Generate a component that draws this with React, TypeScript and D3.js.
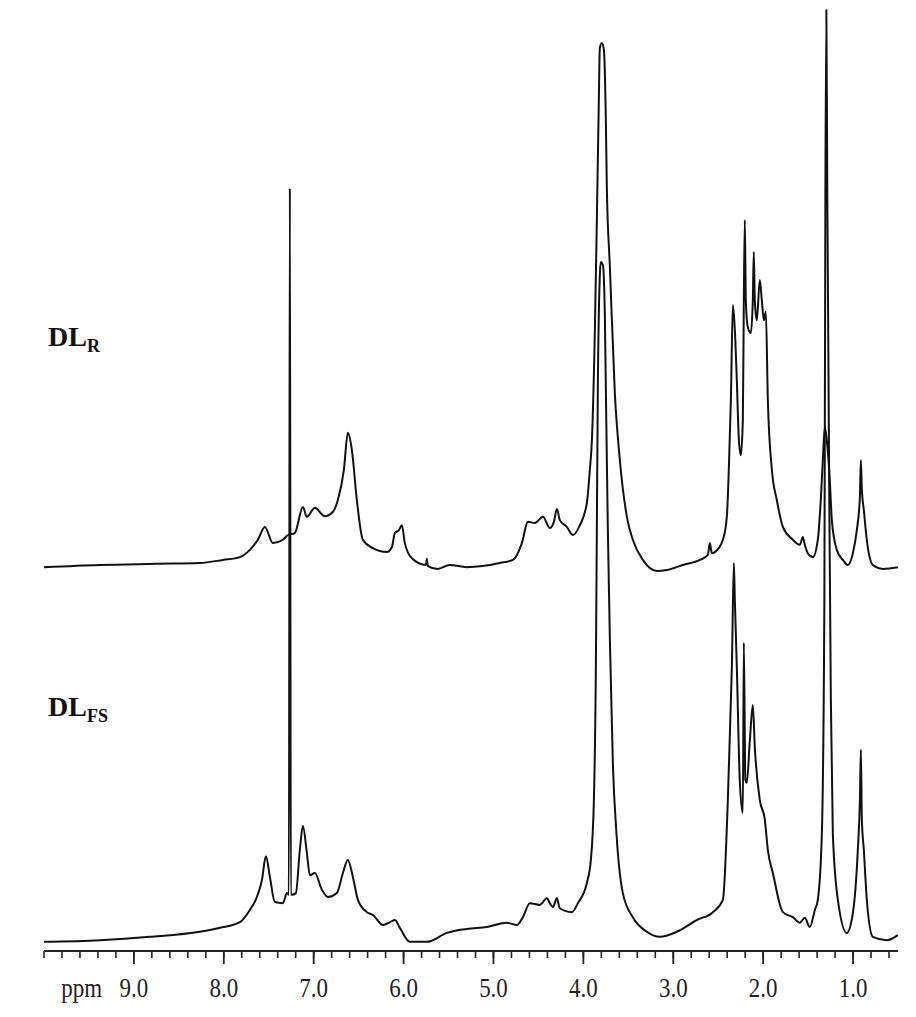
import { useMemo } from 'react'
import * as d3 from 'd3'

const WIDTH = 916
const HEIGHT = 1017

// chemical shift axis
const majorTicks = [9, 8, 7, 6, 5, 4, 3, 2, 1]
const tickLabels = ['9.0', '8.0', '7.0', '6.0', '5.0', '4.0', '3.0', '2.0', '1.0']
const unitLabel = 'ppm'

// [ppm, intensity]
const dlrSpectrum: [number, number][] = [
  [10.0, 0.5], [9.38, 0.9], [8.755, 1.1], [8.266, 1.25], [8.01, 1.8], [7.821, 2.3],
  [7.71, 3.6], [7.621, 5.4], [7.543, 7.7], [7.454, 4.8], [7.343, 5.4], [7.287, 6.25],
  [7.21, 6.6], [7.12, 11.25], [7.076, 9.5], [6.987, 11.1], [6.876, 9.6], [6.786, 10.4],
  [6.731, 12.5], [6.664, 17.9], [6.62, 24.5], [6.575, 21.4], [6.52, 12.5], [6.453, 5.4],
  [6.341, 3.9], [6.186, 3.2], [6.13, 4.1], [6.097, 6.6], [6.052, 7.1], [6.019, 8.0],
  [5.986, 4.8], [5.908, 2.1], [5.752, 0.9], [5.741, 2.0], [5.73, 0.7], [5.62, 0.2],
  [5.487, 0.9], [5.298, 0.5], [5.12, 0.7], [4.929, 1.25], [4.784, 1.8], [4.684, 4.8],
  [4.617, 8.6], [4.539, 8.4], [4.45, 9.5], [4.373, 7.5], [4.328, 8.6], [4.295, 10.9],
  [4.262, 8.9], [4.184, 7.7], [4.117, 6.25], [4.039, 8.0], [3.961, 12.0], [3.928, 17.9],
  [3.905, 23.2], [3.872, 42.9], [3.85, 62.5], [3.828, 83.9], [3.817, 93.2], [3.794, 94.1],
  [3.772, 92.9], [3.75, 80.4], [3.739, 68.4], [3.705, 54.1], [3.65, 31.6], [3.594, 19.6],
  [3.516, 9.5], [3.45, 5.4], [3.338, 1.8], [3.183, -0.2], [3.071, 0], [2.893, 0.9],
  [2.704, 1.8], [2.615, 2.7], [2.593, 4.8], [2.571, 3.0], [2.537, 3.2], [2.448, 5.4],
  [2.404, 9.5], [2.382, 17.9], [2.359, 30.4], [2.337, 47.3], [2.315, 42.9], [2.293, 33.9],
  [2.27, 23.2], [2.248, 20.5], [2.226, 26.8], [2.215, 48.2], [2.204, 62.5], [2.193, 48.2],
  [2.171, 43.4], [2.137, 42.3], [2.115, 48.2], [2.104, 56.8], [2.093, 48.2], [2.071, 44.6],
  [2.037, 51.8], [2.015, 48.2], [1.992, 44.6], [1.97, 46.1], [1.948, 30.4], [1.903, 17.9],
  [1.848, 12.5], [1.781, 7.7], [1.67, 5.4], [1.592, 4.5], [1.559, 5.9], [1.537, 4.5],
  [1.503, 3.0], [1.447, 2.3], [1.392, 5.4], [1.359, 12.5], [1.336, 19.6], [1.314, 25.5],
  [1.292, 23.2], [1.259, 16.1], [1.236, 8.9], [1.181, 3.6], [1.114, 1.8], [1.058, 0.9],
  [1.002, 3.0], [0.958, 7.1], [0.924, 13.0], [0.913, 19.6], [0.902, 14.3], [0.88, 10.7],
  [0.847, 5.4], [0.78, 0.9], [0.669, 0.2], [0.502, 0.5],
]

// [ppm, intensity]
const dlfsSpectrum: [number, number][] = [
  [10.0, 1.1], [9.378, 1.4], [8.822, 2.0], [8.266, 2.9], [8.043, 3.6], [7.821, 4.6],
  [7.71, 6.8], [7.632, 9.1], [7.576, 12.1], [7.532, 16.4], [7.487, 12.7], [7.432, 8.2],
  [7.343, 8.0], [7.298, 9.8], [7.276, 9.5], [7.265, 135.7], [7.254, 9.5], [7.242, 9.5],
  [7.198, 9.8], [7.154, 17.5], [7.12, 21.8], [7.076, 17.0], [7.042, 13.0], [6.987, 13.4],
  [6.909, 10.4], [6.842, 9.1], [6.742, 9.8], [6.675, 13.4], [6.62, 15.7], [6.564, 12.7],
  [6.508, 8.6], [6.408, 6.4], [6.341, 5.9], [6.23, 4.1], [6.13, 4.8], [6.097, 5.0],
  [6.041, 3.6], [5.93, 1.1], [5.741, 1.1], [5.518, 2.7], [5.296, 3.4], [5.073, 3.75],
  [4.851, 4.5], [4.74, 4.1], [4.673, 5.5], [4.595, 8.0], [4.484, 7.7], [4.406, 8.9],
  [4.373, 8.0], [4.339, 7.3], [4.295, 8.9], [4.262, 7.1], [4.128, 6.4], [4.061, 8.0],
  [3.961, 11.6], [3.917, 15.7], [3.883, 26.4], [3.861, 50.0], [3.85, 75.0], [3.839, 100.0],
  [3.817, 120.0], [3.806, 122.5], [3.783, 122.0], [3.761, 113.0], [3.75, 100.0], [3.728, 75.0],
  [3.705, 55.0], [3.672, 33.0], [3.63, 20.0], [3.561, 9.8], [3.45, 5.5], [3.294, 2.9],
  [3.149, 2.0], [2.96, 2.9], [2.737, 5.0], [2.559, 6.4], [2.448, 8.6], [2.393, 26.4],
  [2.359, 44.3], [2.348, 50.2], [2.326, 68.75], [2.315, 62.1], [2.293, 50.2], [2.259, 29.5],
  [2.226, 24.1], [2.215, 54.5], [2.198, 30.0], [2.182, 29.5], [2.148, 37.1], [2.115, 43.4],
  [2.093, 35.9], [2.037, 26.4], [1.981, 22.9], [1.948, 17.5], [1.892, 13.4], [1.781, 6.4],
  [1.67, 5.5], [1.592, 4.5], [1.537, 5.4], [1.481, 3.75], [1.425, 6.8], [1.392, 8.6],
  [1.347, 20.5], [1.319, 62.1], [1.308, 133.6], [1.297, 167.5], [1.286, 133.6], [1.264, 80.0],
  [1.247, 44.3], [1.225, 20.5], [1.169, 8.6], [1.07, 2.7], [1.002, 6.25], [0.947, 17.5],
  [0.924, 26.4], [0.913, 35.4], [0.902, 22.9], [0.88, 17.5], [0.847, 8.6], [0.78, 2.0],
  [0.624, 1.4], [0.502, 2.3],
]

const traceNames = ['DL', 'DL']
const traceSubs = ['R', 'FS']

const FONT = '"Liberation Serif", "Times New Roman", Times, serif'
const SQUEEZE = 0.82 // the scan's axis lettering is narrow and tall

export default function App() {
  const x = useMemo(() => d3.scaleLinear().domain([10, 0.5]).range([44, 898]), [])
  const yTop = useMemo(() => d3.scaleLinear().domain([0, 100]).range([570, 10]), [])
  const yBot = useMemo(() => d3.scaleLinear().domain([0, 100]).range([948, 388]), [])

  const paths = useMemo(() => {
    const mk = (y: d3.ScaleLinear<number, number>) =>
      d3
        .line<[number, number]>()
        .x((d) => x(d[0]))
        .y((d) => y(d[1]))
        .curve(d3.curveMonotoneX)
    return [mk(yTop)(dlrSpectrum) ?? '', mk(yBot)(dlfsSpectrum) ?? '']
  }, [x, yTop, yBot])

  const axisY = 951
  const labelY = 997
  const minorTicks = d3.range(6, 101, 2).map((v) => v / 10)
  const labelPos = [
    { x: 48, y: 346, subY: 352 },
    { x: 48, y: 716, subY: 722 },
  ]

  return (
    <svg
      width={WIDTH}
      height={HEIGHT}
      style={{ position: 'absolute', left: 0, top: 0, background: '#fff' }}
    >
      {paths.map((d, i) => (
        <path
          key={i}
          d={d}
          fill="none"
          stroke="#111"
          strokeWidth={2}
          strokeLinejoin="round"
        />
      ))}

      {/* axis */}
      <line x1={x(10)} x2={x(0.5)} y1={axisY} y2={axisY} stroke="#222" strokeWidth={2} />
      {minorTicks.map((t) => (
        <line key={'m' + t} x1={x(t)} x2={x(t)} y1={axisY} y2={axisY + 7} stroke="#222" strokeWidth={1.6} />
      ))}
      {majorTicks.map((t, i) => (
        <g key={'M' + t}>
          <line x1={x(t)} x2={x(t)} y1={axisY} y2={axisY + 13} stroke="#222" strokeWidth={1.8} />
          <text
            transform={`translate(${x(t)},${labelY}) scale(${SQUEEZE},1)`}
            textAnchor="middle"
            fontFamily={FONT}
            fontSize={28}
            fill="#222"
          >
            {tickLabels[i]}
          </text>
        </g>
      ))}
      <text
        transform={`translate(102,${labelY}) scale(${SQUEEZE},1)`}
        textAnchor="end"
        fontFamily={FONT}
        fontSize={28}
        fill="#222"
      >
        {unitLabel}
      </text>

      {traceNames.map((n, i) => (
        <text key={i} x={labelPos[i].x} y={labelPos[i].y} fontFamily={FONT} fill="#111">
          <tspan fontSize={28} fontWeight="bold">{n}</tspan>
          <tspan fontSize={18} fontWeight="bold" y={labelPos[i].subY}>
            {traceSubs[i]}
          </tspan>
        </text>
      ))}
    </svg>
  )
}
